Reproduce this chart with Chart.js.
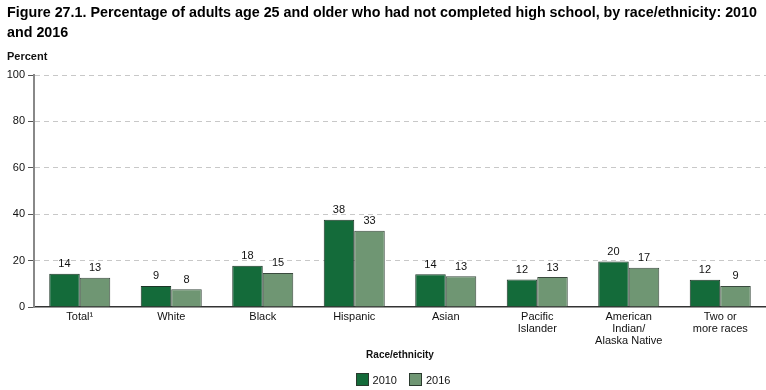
<!DOCTYPE html>
<html>
<head>
<meta charset="utf-8">
<script src="https://cdn.jsdelivr.net/npm/chart.js@4"></script>
<style>
  body { margin: 0; background: #fff; font-family: Arial, "Liberation Sans", sans-serif; }
  #wrap { position: relative; width: 766px; height: 390px; }
  #title { position: absolute; left: 7px; top: 2px; font-size: 14.3px; font-weight: bold; line-height: 20px; color: #000; }
  #ylab { position: absolute; left: 7px; top: 50px; font-size: 11px; font-weight: bold; color: #111; }
  #legend { position: absolute; top: 373px; left: 0; width: 806px; text-align: center; font-size: 11px; color: #111; }
  #legend span.item { display: inline-block; margin: 0 6px; }
  #legend i { display: inline-block; width: 11px; height: 11px; border: 1px solid #2a3a2e; vertical-align: -2px; margin-right: 4px; }
  canvas { position: absolute; left: 0; top: 0; }
</style>
</head>
<body>
<div id="wrap">
  <canvas id="chart" width="766" height="390"></canvas>
  <div id="title">Figure 27.1. Percentage of adults age 25 and older who had not completed high school, by race/ethnicity: 2010<br>and 2016</div>
  <div id="ylab">Percent</div>
  <div id="legend"></div>
</div>
<script>
// Categories and values
const categories = ['Total\u00B9', 'White', 'Black', 'Hispanic', 'Asian', ['Pacific', 'Islander'], ['American', 'Indian/', 'Alaska Native'], ['Two or', 'more races']];
const values2010 = [14.3, 9.1, 17.8, 37.6, 14.1, 11.9, 19.6, 11.7];
const values2016 = [12.6, 7.6, 14.7, 32.9, 13.3, 12.9, 16.9, 9.1];
const yTicks = [0, 20, 40, 60, 80, 100];

const dark = '#146b3a';
const light = '#6f9673';

// draw the rounded value above each bar
const valueLabels = {
  id: 'valueLabels',
  afterDatasetsDraw(chart) {
    const ctx = chart.ctx;
    ctx.save();
    ctx.font = '11px Arial, "Liberation Sans", sans-serif';
    ctx.fillStyle = '#111';
    ctx.textAlign = 'center';
    ctx.textBaseline = 'bottom';
    chart.data.datasets.forEach((ds, i) => {
      chart.getDatasetMeta(i).data.forEach((bar, j) => {
        ctx.fillText(Math.round(ds.data[j]), bar.x, bar.y - 4);
      });
    });
    ctx.restore();
  }
};

const chart = new Chart(document.getElementById('chart'), {
  type: 'bar',
  data: {
    labels: categories,
    datasets: [
      { label: '2010', data: values2010, backgroundColor: dark, borderColor: '#1c3527', borderWidth: 1 },
      { label: '2016', data: values2016, backgroundColor: light, borderColor: '#3a4a3e', borderWidth: 1 }
    ]
  },
  options: {
    responsive: false,
    animation: false,
    events: [],
    layout: { padding: { top: 75, left: 0, right: 0, bottom: 23 } },
    datasets: { bar: { categoryPercentage: 0.667, barPercentage: 1 } },
    plugins: {
      legend: { display: false },
      tooltip: { enabled: false }
    },
    scales: {
      x: {
        afterFit(scale) { scale.height = 60; },
        grid: { display: false, drawTicks: false },
        border: { color: '#333', width: 1.5 },
        ticks: {
          padding: 4,
          color: '#111',
          font: { size: 11, family: 'Arial, "Liberation Sans", sans-serif', lineHeight: 1.1 }
        },
        title: {
          display: true,
          text: 'Race/ethnicity',
          color: '#111',
          font: { size: 10, weight: 'bold', family: 'Arial, "Liberation Sans", sans-serif' },
          padding: { top: 0, bottom: 6 }
        }
      },
      y: {
        min: 0,
        max: 100,
        afterFit(scale) { scale.width = 34; },
        afterBuildTicks(scale) { scale.ticks = yTicks.map(v => ({ value: v })); },
        // in v4 border.dash dashes the grid lines, not the axis line
        border: { color: '#888', width: 2, dash: [5, 4] },
        grid: {
          color: c => (c.tick && c.tick.value === 0 ? 'rgba(0,0,0,0)' : '#c8c8c8'),
          tickColor: '#555',
          tickBorderDash: [1, 0],
          tickLength: 6,
          lineWidth: 1
        },
        ticks: {
          padding: 3,
          color: '#111',
          font: { size: 11, family: 'Arial, "Liberation Sans", sans-serif' }
        }
      }
    }
  },
  plugins: [valueLabels]
});

// legend built from the chart's datasets
document.getElementById('legend').innerHTML = chart.data.datasets
  .map(ds => '<span class="item"><i style="background:' + ds.backgroundColor + '"></i>' + ds.label + '</span>')
  .join('');
</script>
</body>
</html>
